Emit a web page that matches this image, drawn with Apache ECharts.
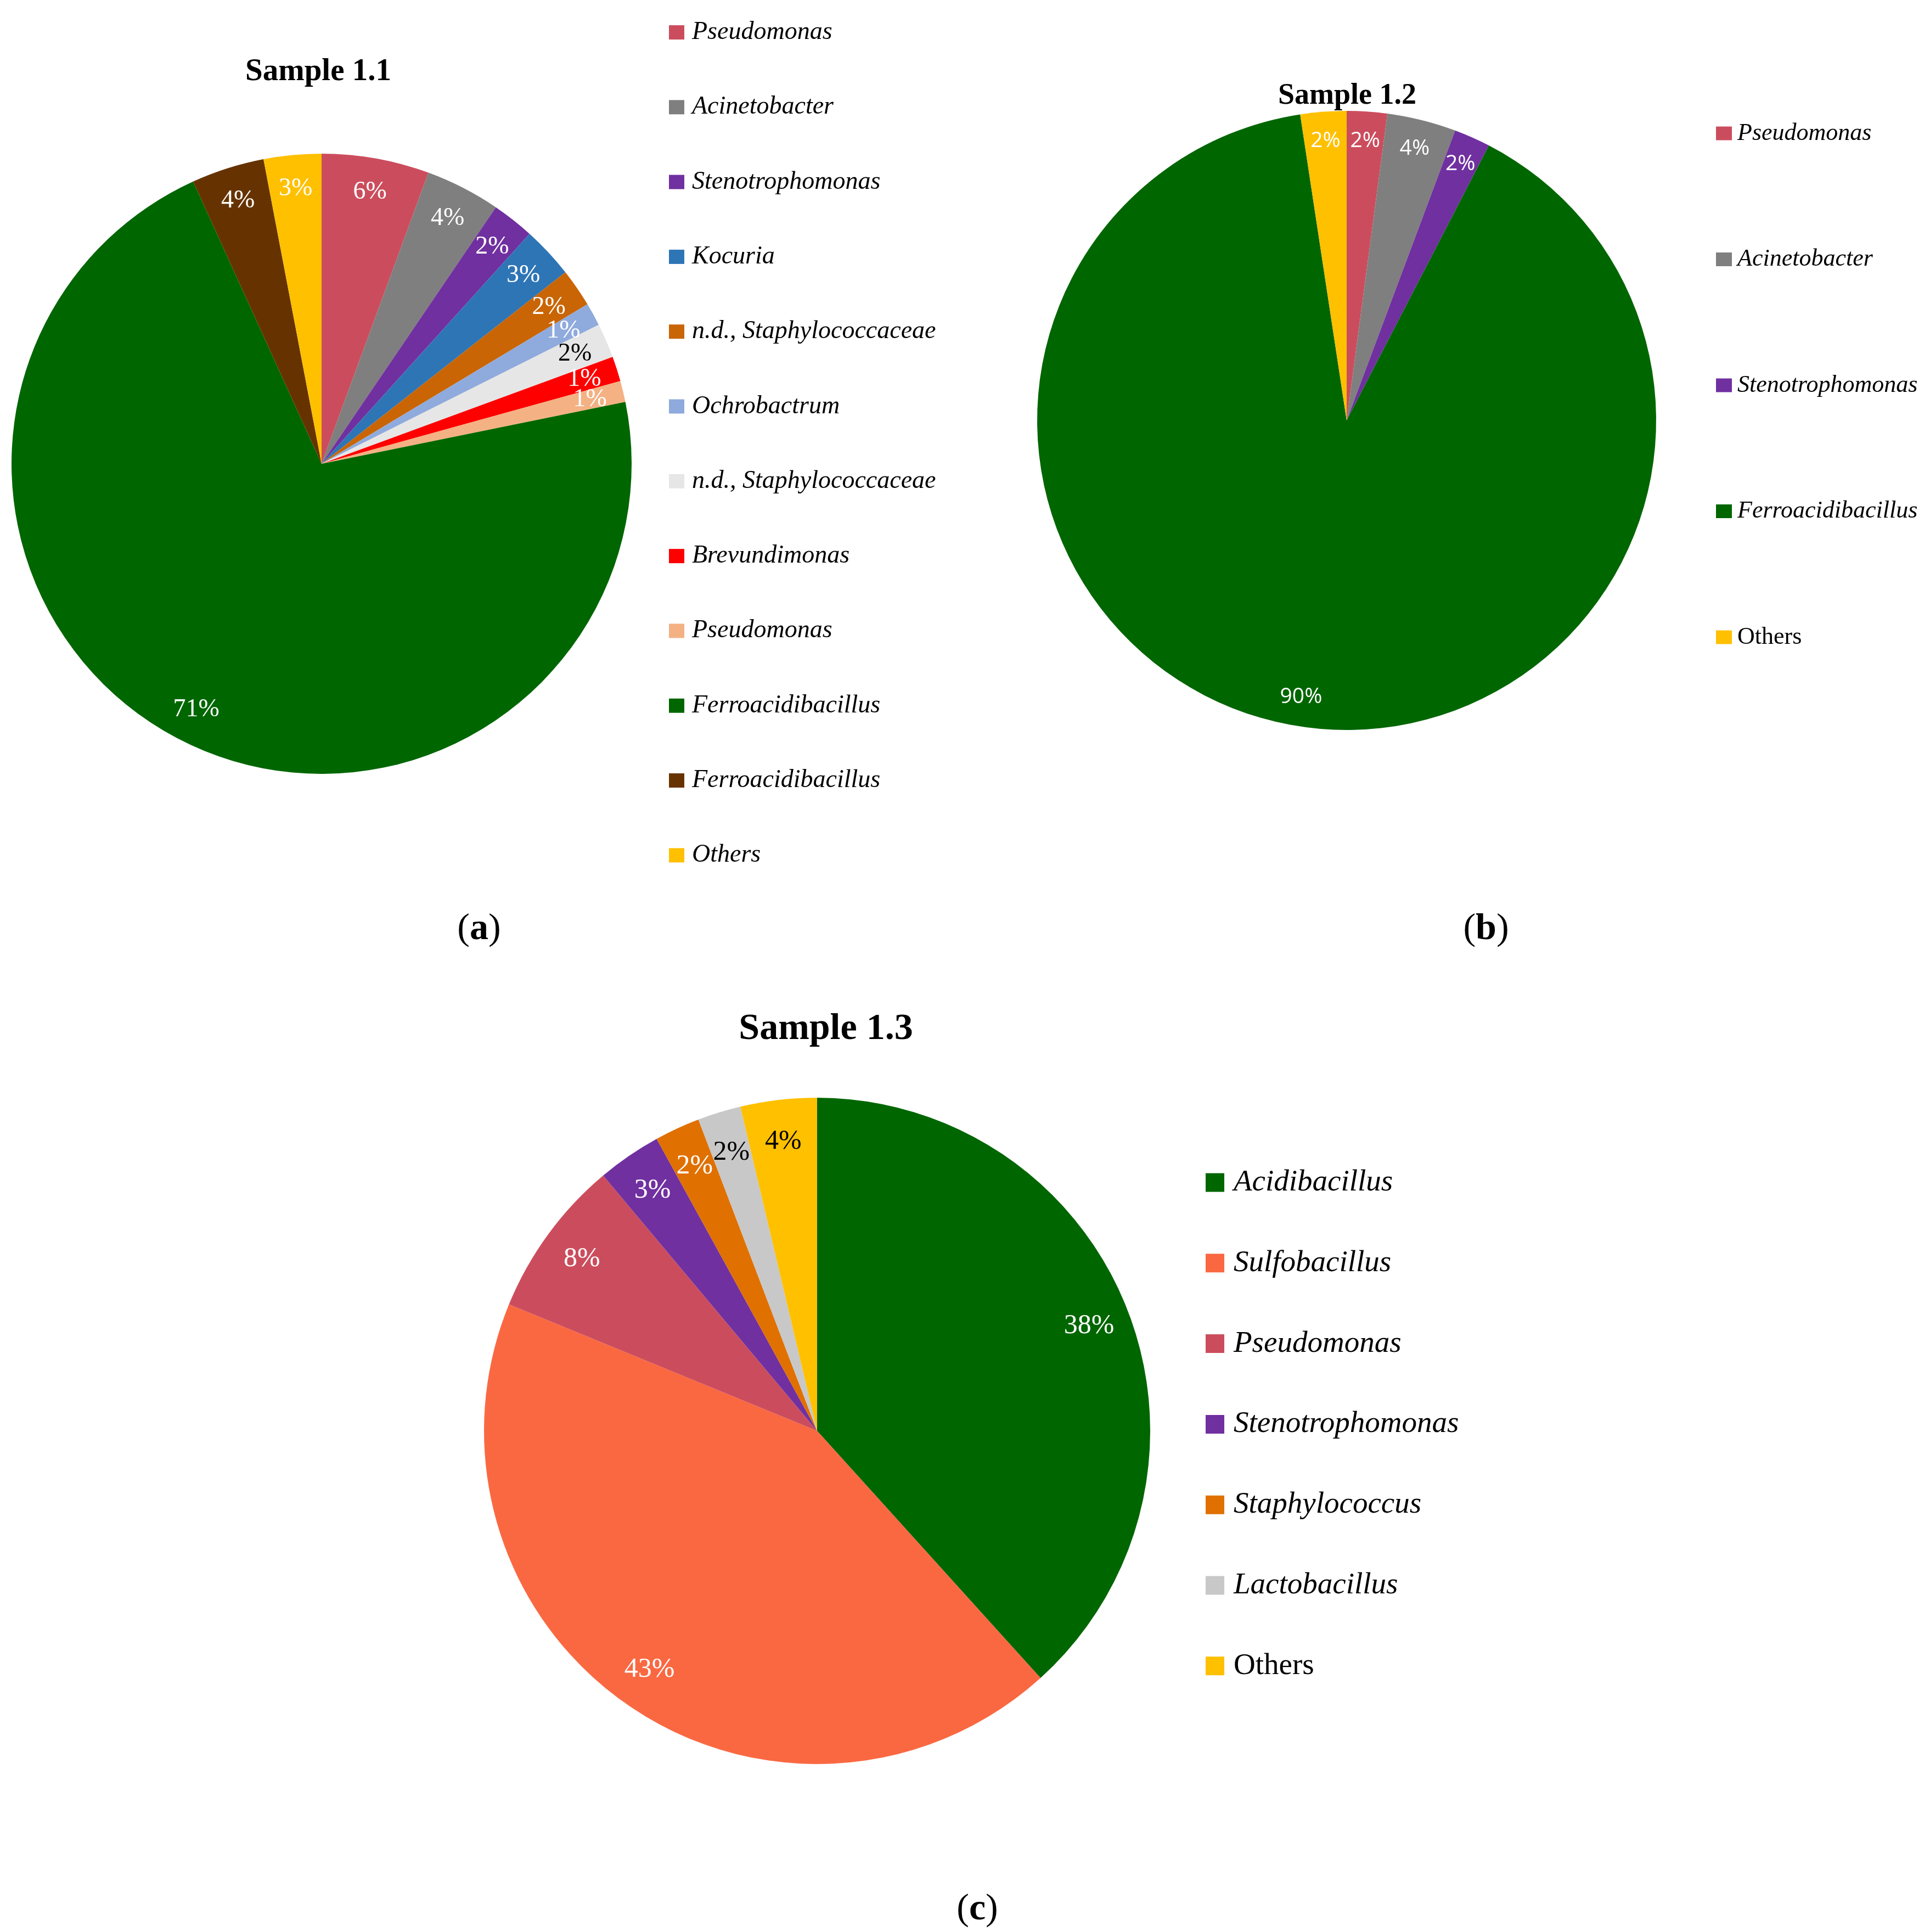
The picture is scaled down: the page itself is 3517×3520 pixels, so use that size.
<!DOCTYPE html>
<html><head><meta charset="utf-8">
<script src="https://cdn.jsdelivr.net/npm/echarts@6/dist/echarts.min.js"></script>
<style>html,body{margin:0;padding:0;background:#fff}#c{width:3517px;height:3520px}</style>
</head><body><div id="c"></div>
<script>
// ---- data ----
const catsA = ['Pseudomonas','Acinetobacter','Stenotrophomonas','Kocuria','n.d., Staphylococcaceae','Ochrobactrum','n.d., Staphylococcaceae','Brevundimonas','Pseudomonas','Ferroacidibacillus','Ferroacidibacillus','Others'];
const valsA = [5.6, 3.9, 2.2, 2.7, 2.0, 1.2, 1.8, 1.3, 1.1, 71.4, 3.8, 3.0];
const catsB = ['Pseudomonas','Acinetobacter','Stenotrophomonas','Ferroacidibacillus','Others'];
const valsB = [2.1, 3.6, 1.9, 90.0, 2.4];
const catsC = ['Acidibacillus','Sulfobacillus','Pseudomonas','Stenotrophomonas','Staphylococcus','Lactobacillus','Others'];
const valsC = [38.3, 42.9, 7.7, 3.1, 2.2, 2.1, 3.7];
const titles = ['Sample 1.1','Sample 1.2','Sample 1.3'];
const captions = ['a','b','c'];

// ---- styles ----
const colorsA = ['#CB4D5D','#7F7F7F','#7030A0','#2E75B6','#C96505','#8FAADC','#E6E6E6','#FF0000','#F4B183','#006600','#663300','#FFC000'];
const labColA = ['#fff','#fff','#fff','#fff','#fff','#fff','#000','#fff','#fff','#fff','#fff','#fff'];
const colorsB = ['#CB4D5D','#7F7F7F','#7030A0','#006600','#FFC000'];
const labColB = ['#fff','#fff','#fff','#fff','#fff'];
const colorsC = ['#006600','#FA6842','#CB4D5D','#7030A0','#E07000','#C8C8C8','#FFC000'];
const labColC = ['#fff','#fff','#fff','#fff','#fff','#000','#000'];

const SERIF = 'Liberation Serif';
const ZW = '\u200b';
function uniq(names){
  const seen = {};
  return names.map(n => { seen[n] = (seen[n] || 0) + 1; return n + ZW.repeat(seen[n] - 1); });
}
const nA = uniq(catsA), nB = uniq(catsB), nC = uniq(catsC);

function pies(names, vals, colors, labCols, center, R, inner, font, fsize){
  return [
    { type:'pie', center:center, radius:R, startAngle:90, clockwise:true, silent:true,
      animation:false, emphasis:{disabled:true},
      label:{show:false}, labelLine:{show:false},
      itemStyle:{borderWidth:0},
      data: names.map((n,i)=>({name:n, value:vals[i], itemStyle:{color:colors[i]}})) },
    { type:'pie', center:center, radius:[R*inner, R], startAngle:90, clockwise:true, silent:true,
      animation:false, emphasis:{disabled:true}, percentPrecision:0,
      avoidLabelOverlap:false, labelLayout:{hideOverlap:false},
      itemStyle:{color:'rgba(0,0,0,0)', borderWidth:0},
      labelLine:{show:false},
      label:{show:true, position:'inside', formatter:'{s|{d}%}', fontFamily:font, fontSize:fsize, fontWeight:'normal'},
      data: names.map((n,i)=>({name:n, value:vals[i],
        label:{color:labCols[i], fontFamily:font, fontSize:fsize,
          rich:{ s:{fontFamily:font, fontSize:fsize, color:labCols[i], fontWeight:'normal'} } } })) }
  ];
}

function legend(names, left, top, iw, ih, gap, fs, pad, italicOthers){
  return { orient:'vertical', left:left, top:top, padding:0, itemWidth:iw, itemHeight:ih, itemGap:gap,
    icon:'rect', selectedMode:false,
    formatter: n => n.replace(/\u200b/g,''),
    textStyle:{fontFamily:SERIF, fontSize:fs, lineHeight:fs, color:'#000', padding:[0,0,0,pad]},
    data: names.map(n => ({name:n, textStyle:{fontStyle:(n.indexOf('Others')===0 && !italicOthers)?'normal':'italic'}})) };
}

function txt(x, y, text, fs, weight){
  return { type:'text', x:x, y:y, silent:true,
    style:{ text:text, fontSize:fs, fontFamily:SERIF, fontWeight:weight, fill:'#000',
      align:'center', verticalAlign:'middle', textAlign:'center', textVerticalAlign:'middle' } };
}
function cap(x, y, letter){
  const fs = 68;
  return { type:'text', x:x, y:y, silent:true,
    style:{ text:'{n|(}{b|' + letter + '}{n|)}', fontSize:fs, fontFamily:SERIF, fill:'#000',
      align:'center', verticalAlign:'middle', textAlign:'center', textVerticalAlign:'middle',
      rich:{ n:{fontSize:fs, fontFamily:SERIF, fontWeight:'normal'}, b:{fontSize:fs, fontFamily:SERIF, fontWeight:'bold'} } } };
}

const chart = echarts.init(document.getElementById('c'));
chart.setOption({
  animation:false,
  backgroundColor:'#fff',
  legend:[
    legend(nA, 1219, 36, 28, 26, 90.3, 46, 9, true),
    legend(nB, 3127, 221, 29, 25, 185.5, 44, 5, false),
    legend(nC, 2197, 2127, 34, 34, 91.8, 55, 12, false)
  ],
  graphic:[
    txt(580, 131, titles[0], 57, 'bold'),
    txt(2455, 175, titles[1], 54, 'bold'),
    txt(1505, 1875, titles[2], 68, 'bold'),
    cap(873, 1693, captions[0]),
    cap(2708, 1693, captions[1]),
    cap(1781, 3479, captions[2])
  ],
  series:[].concat(
    pies(nA, valsA, colorsA, labColA, [586, 845], 565, 0.77, SERIF, 46),
    pies(nB, valsB, colorsB, labColB, [2454, 766], 564, 0.80, 'Open Sans', 39),
    pies(nC, valsC, colorsC, labColC, [1489, 2607], 607, 0.74, SERIF, 50)
  )
});
</script></body></html>
